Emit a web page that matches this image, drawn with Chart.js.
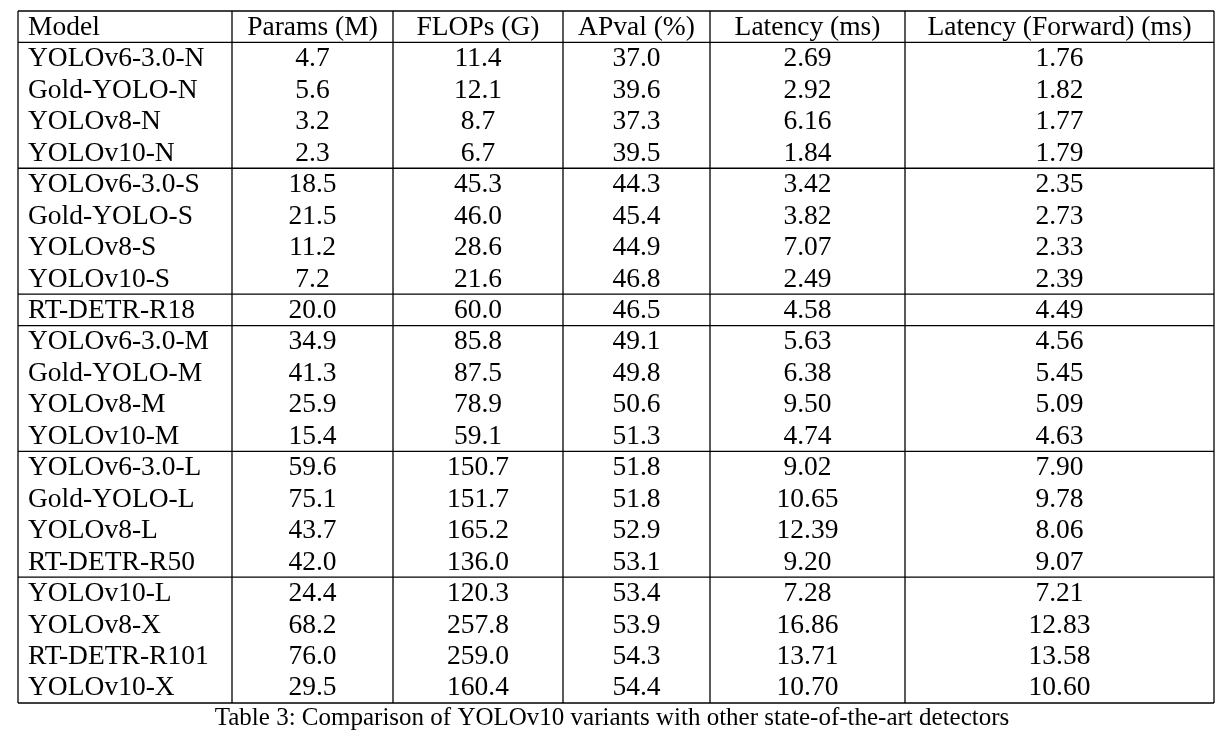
<!DOCTYPE html>
<html><head><meta charset="utf-8">
<script src="https://cdn.jsdelivr.net/npm/chart.js@4"></script>
<style>html,body{margin:0;background:#fff}</style></head>
<body><canvas id="c" width="1226" height="738"></canvas>
<script>
const headers = ["Model","Params (M)","FLOPs (G)","APval (%)","Latency (ms)","Latency (Forward) (ms)"];
const models = ["YOLOv6-3.0-N","Gold-YOLO-N","YOLOv8-N","YOLOv10-N","YOLOv6-3.0-S","Gold-YOLO-S","YOLOv8-S","YOLOv10-S","RT-DETR-R18","YOLOv6-3.0-M","Gold-YOLO-M","YOLOv8-M","YOLOv10-M","YOLOv6-3.0-L","Gold-YOLO-L","YOLOv8-L","RT-DETR-R50","YOLOv10-L","YOLOv8-X","RT-DETR-R101","YOLOv10-X"];
const params = ["4.7","5.6","3.2","2.3","18.5","21.5","11.2","7.2","20.0","34.9","41.3","25.9","15.4","59.6","75.1","43.7","42.0","24.4","68.2","76.0","29.5"];
const flops = ["11.4","12.1","8.7","6.7","45.3","46.0","28.6","21.6","60.0","85.8","87.5","78.9","59.1","150.7","151.7","165.2","136.0","120.3","257.8","259.0","160.4"];
const apval = ["37.0","39.6","37.3","39.5","44.3","45.4","44.9","46.8","46.5","49.1","49.8","50.6","51.3","51.8","51.8","52.9","53.1","53.4","53.9","54.3","54.4"];
const latency = ["2.69","2.92","6.16","1.84","3.42","3.82","7.07","2.49","4.58","5.63","6.38","9.50","4.74","9.02","10.65","12.39","9.20","7.28","16.86","13.71","10.70"];
const latencyFwd = ["1.76","1.82","1.77","1.79","2.35","2.73","2.33","2.39","4.49","4.56","5.45","5.09","4.63","7.90","9.78","8.06","9.07","7.21","12.83","13.58","10.60"];
const groupEnds = [4,8,9,13,17];
const caption = "Table 3: Comparison of YOLOv10 variants with other state-of-the-art detectors";

const colEdges = [18,232,393,563,710,905,1214];
const FONT = '27.5px "Liberation Serif", "DejaVu Serif", serif';
const rows = ["header"].concat(models);

const tablePlugin = {
  id:'table',
  afterDraw(chart){
    const ctx = chart.ctx, x = chart.scales.x, y = chart.scales.y;
    const cols = [models, params, flops, apval, latency, latencyFwd];
    ctx.save();
    ctx.fillStyle = '#000'; ctx.strokeStyle = '#000'; ctx.lineWidth = 1.3;
    ctx.font = FONT; ctx.textBaseline = 'middle';
    const bnd = i => (i <= 0) ? y.top : (i >= rows.length ? y.bottom :
      (y.getPixelForValue(i-1) + y.getPixelForValue(i))/2);
    const xl = x.getPixelForValue(colEdges[0]), xr = x.getPixelForValue(colEdges[colEdges.length-1]);
    const hline = yy => { ctx.beginPath(); ctx.moveTo(xl, yy); ctx.lineTo(xr, yy); ctx.stroke(); };
    hline(y.top); hline(bnd(1)); hline(y.bottom);
    groupEnds.forEach(g => hline(bnd(g+1)));
    colEdges.forEach(e => { const px = x.getPixelForValue(e); ctx.beginPath(); ctx.moveTo(px, y.top); ctx.lineTo(px, y.bottom); ctx.stroke(); });
    const put = (txt, c, r) => {
      const yy = y.getPixelForValue(r) + 1;
      if (c === 0) { ctx.textAlign = 'left'; ctx.fillText(txt, x.getPixelForValue(colEdges[0]) + 10, yy); }
      else { ctx.textAlign = 'center'; ctx.fillText(txt, (x.getPixelForValue(colEdges[c]) + x.getPixelForValue(colEdges[c+1]))/2, yy); }
    };
    headers.forEach((h, c) => put(h, c, 0));
    cols.forEach((arr, c) => arr.forEach((v, r) => put(v, c, r+1)));
    ctx.font = '25px "Liberation Serif", "DejaVu Serif", serif';
    ctx.textAlign = 'center';
    ctx.fillText(caption, 612, y.bottom + 15);
    ctx.restore();
  }
};

new Chart(document.getElementById('c'), {
  type: 'scatter',
  data: { labels: rows, datasets: [{ data: [] }] },
  options: {
    responsive: false, animation: false,
    layout: { padding: { left: 18, right: 12, top: 11, bottom: 35 } },
    plugins: { legend: { display: false }, tooltip: { enabled: false } },
    scales: {
      x: { type: 'linear', min: 18, max: 1214, display: false },
      y: { type: 'category', labels: rows, offset: true, display: false }
    }
  },
  plugins: [tablePlugin]
});
</script></body></html>
